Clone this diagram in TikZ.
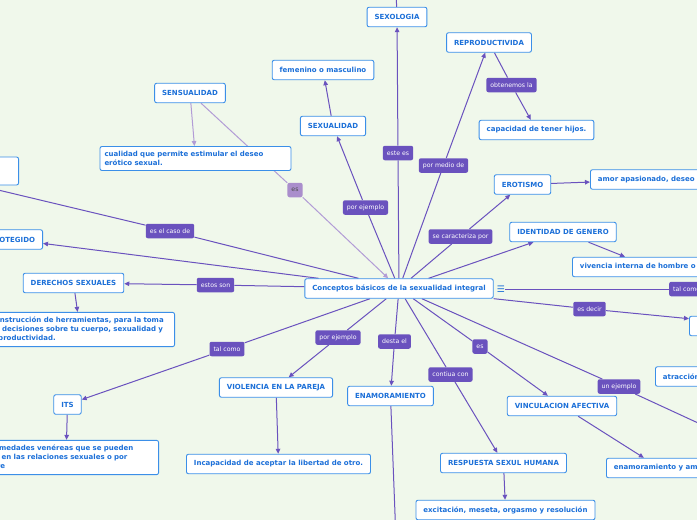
\documentclass[tikz,border=0pt]{standalone}
\usepackage{fontspec}
\setmainfont{DejaVu Sans}
\usetikzlibrary{arrows.meta,backgrounds}
\definecolor{paper}{RGB}{240,248,235}
\definecolor{edge}{RGB}{59,143,232}
\definecolor{ink}{RGB}{27,111,216}
\definecolor{violet}{RGB}{106,82,190}
\definecolor{lilac}{RGB}{178,156,214}
\definecolor{lilacfill}{RGB}{170,142,204}

\begin{document}
\begin{tikzpicture}[x=1pt,y=-1pt]
    \tikzstyle{box}=[draw=edge,fill=white,line width=0.9pt,rounded corners=2pt,text=ink,font=\fontsize{7}{8.6}\selectfont\bfseries,inner xsep=7.5pt,minimum height=19.5pt]
    \tikzstyle{para}=[box,align=left,text width=182pt,inner xsep=4.5pt,inner ysep=5pt]
    \tikzstyle{chip}=[fill=violet,rounded corners=2pt,text=white,font=\fontsize{6.2}{7}\selectfont,inner xsep=4pt,minimum height=14.5pt]
    \tikzstyle{softchip}=[chip,fill=lilacfill,text=black!70]
    \tikzstyle{plain}=[violet,line width=1pt]
    \tikzstyle{link}=[plain,-{Triangle[length=5pt,width=4.5pt]}]
    \tikzstyle{softlink}=[link,lilac]
    \useasboundingbox (0,0) rectangle (697,520);

    % centre
    \node[box] (core) at (399,288.5) {Conceptos básicos de la sexualidad integral};
    \node[text=ink,font=\fontsize{9}{9}\selectfont,inner sep=0pt] (menu) at (501,289) {☰};

    % upper half
    \node[box] (sexologia) at (397,17) {SEXOLOGIA};
    \node[box] (reprod) at (489,42.5) {REPRODUCTIVIDA};
    \node[box] (hijos) at (536.5,130) {capacidad de tener hijos.};
    \node[box] (genero) at (323,70) {femenino o masculino};
    \node[box] (sexualidad) at (333,126) {SEXUALIDAD};
    \node[box] (sensualidad) at (190,93) {SENSUALIDAD};
    \node[para] (deseo) at (195.5,158.5) {cualidad que permite estimular el deseo\\erótico sexual.};
    \node[box,anchor=east,minimum width=200pt,minimum height=28pt] (oculto) at (19,171) {};
    \node[box,anchor=east] (protegido) at (43,239.5) {PROTEGIDO};
    \node[box] (erotismo) at (522.5,184.5) {EROTISMO};
    \node[box,anchor=west] (pasion) at (590,179.5) {amor apasionado, deseo sexual};
    \node[box] (identidad) at (563,232) {IDENTIDAD DE GENERO};
    \node[box,anchor=west] (vivencia) at (572,267) {vivencia interna de hombre o mujer};

    % lower half
    \node[box] (derechos) at (73.5,283) {DERECHOS SEXUALES};
    \node[para,anchor=east,text width=180pt] (decisiones) at (175,329.5) {Construcción de herramientas, para la toma\\de decisiones sobre tu cuerpo, sexualidad y\\reproductividad.};
    \node[box] (its) at (67.5,404.5) {ITS};
    \node[para,anchor=east,text width=176pt] (venereas) at (159,457.5) {Enfermedades venéreas que se pueden\\tener en las relaciones sexuales o por\\sangre};
    \node[box] (violencia) at (276,387.5) {VIOLENCIA EN LA PAREJA};
    \node[box] (libertad) at (278.5,464) {Incapacidad de aceptar la libertad de otro.};
    \node[box] (enamoramiento) at (390.5,396) {ENAMORAMIENTO};
    \node[box] (respuesta) at (503.5,463) {RESPUESTA SEXUL HUMANA};
    \node[box] (fases) at (505.5,510) {excitación, meseta, orgasmo y resolución};
    \node[box] (vinculo) at (562,406) {VINCULACION AFECTIVA};
    \node[box,anchor=west] (amor) at (606,468) {enamoramiento y amor};
    \node[box,anchor=west] (atraccion) at (655,376.5) {atracción};
    \node[box,anchor=west,minimum width=150pt] (decir) at (689,326) {};

    % link words
    \node[chip] (esteEs) at (398,153) {este es};
    \node[chip] (medio) at (443.5,165.5) {por medio de};
    \node[chip] (obtenemos) at (511.5,85) {obtenemos la};
    \node[chip] (ejemploA) at (365.5,207.5) {por ejemplo};
    \node[softchip] (es) at (295,190) {es};
    \node[chip] (caso) at (170,231) {es el caso de};
    \node[chip] (caracteriza) at (460.5,236.5) {se caracteriza por};
    \node[chip] (estos) at (215.5,285) {estos son};
    \node[chip] (talComo) at (227,349) {tal como};
    \node[chip] (ejemploB) at (338,337.5) {por ejemplo};
    \node[chip] (desta) at (394.5,341.5) {desta el};
    \node[chip] (contiua) at (450.5,374.5) {contiua con};
    \node[chip] (esB) at (480,346.5) {es};
    \node[chip] (unEjemplo) at (619,386.5) {un ejemplo};
    \node[chip] (esDecir) at (589.5,309) {es decir};
    \node[chip,anchor=west] (talComoB) at (669,289) {tal como};

    \coordinate (arriba) at (396,-10);
    \coordinate (abajo) at (396,540);
    \coordinate (lejos) at (800,470);
    \coordinate (derecha) at (800,289);

    \begin{scope}[on background layer]
    \fill[paper] (0,0) rectangle (697,520);
    \draw[plain] (sexologia) -- (arriba);
    \draw[plain] (core) -- (esteEs); \draw[link] (esteEs) -- (sexologia);
    \draw[plain] (core) -- (medio); \draw[link] (medio) -- (reprod);
    \draw[plain] (reprod) -- (obtenemos); \draw[link] (obtenemos) -- (hijos);
    \draw[plain] (core) -- (ejemploA); \draw[link] (ejemploA) -- (sexualidad);
    \draw[link] (sexualidad) -- (genero);
    \draw[softlink] (sensualidad) -- (deseo);
    \draw[plain,lilac] (sensualidad) -- (es); \draw[softlink] (es) -- (core);
    \draw[plain] (core) -- (caso); \draw[link] (caso) -- (oculto);
    \draw[link] (core) -- (protegido);
    \draw[plain] (core) -- (caracteriza); \draw[link] (caracteriza) -- (erotismo);
    \draw[link] (erotismo) -- (pasion);
    \draw[link] (core) -- (identidad);
    \draw[link] (identidad) -- (vivencia);
    \draw[plain] (core) -- (estos); \draw[link] (estos) -- (derechos);
    \draw[link] (derechos) -- (decisiones);
    \draw[plain] (core) -- (talComo); \draw[link] (talComo) -- (its);
    \draw[link] (its) -- (venereas);
    \draw[plain] (core) -- (ejemploB); \draw[link] (ejemploB) -- (violencia);
    \draw[link] (violencia) -- (libertad);
    \draw[plain] (core) -- (desta); \draw[link] (desta) -- (enamoramiento);
    \draw[plain] (enamoramiento) -- (abajo);
    \draw[plain] (core) -- (contiua); \draw[link] (contiua) -- (respuesta);
    \draw[link] (respuesta) -- (fases);
    \draw[plain] (core) -- (esB); \draw[link] (esB) -- (vinculo);
    \draw[link] (vinculo) -- (amor);
    \draw[plain] (core) -- (unEjemplo); \draw[link] (unEjemplo) -- (lejos);
    \draw[plain] (core) -- (esDecir); \draw[link] (esDecir) -- (decir);
    \draw[plain] (menu) -- (talComoB); \draw[link] (talComoB) -- (derecha);
    \end{scope}
\end{tikzpicture}
\end{document}
